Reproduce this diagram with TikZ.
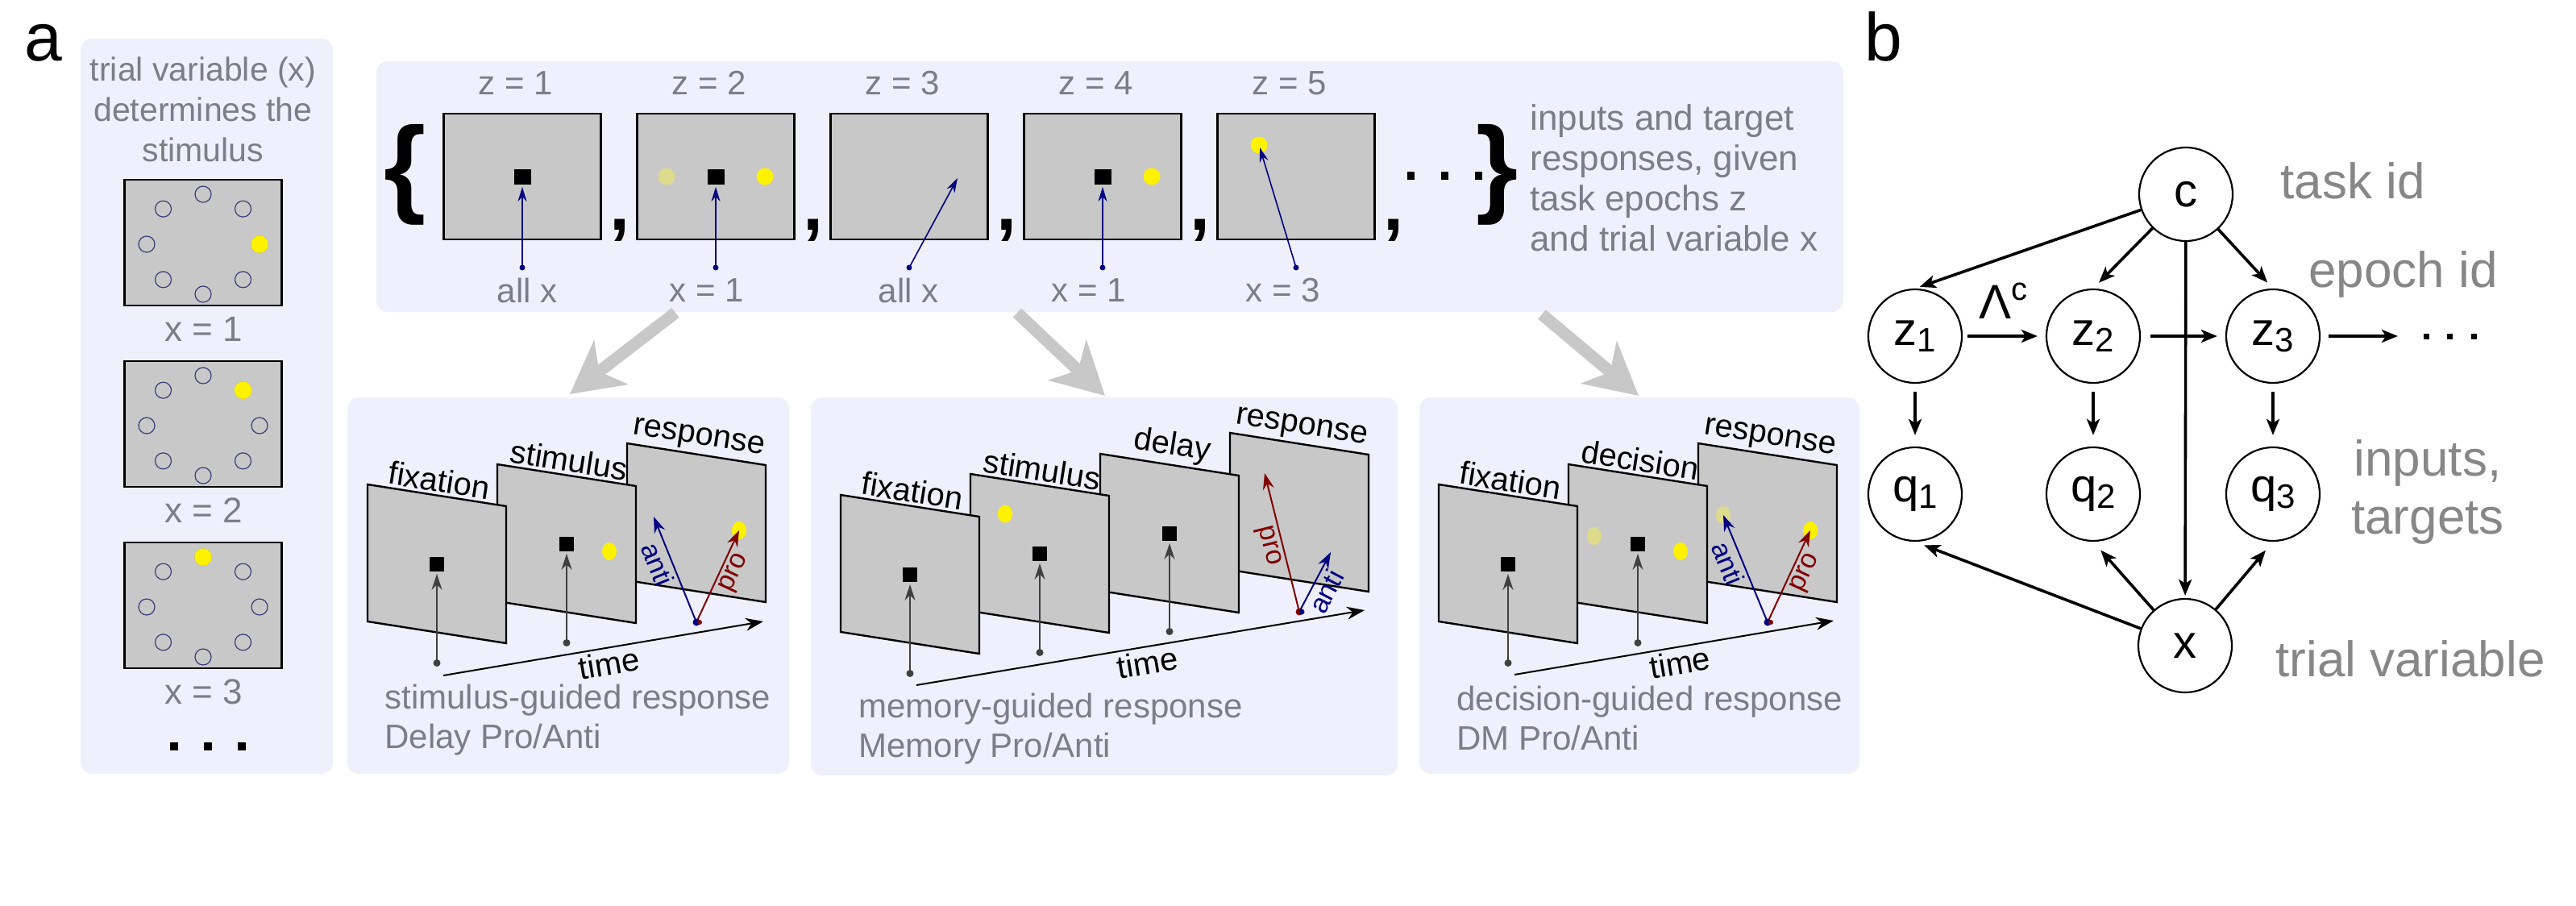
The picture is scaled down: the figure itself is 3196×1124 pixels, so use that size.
\documentclass[tikz,border=0pt]{standalone}
\usepackage{fontspec}
\setmainfont{Liberation Sans}
\usetikzlibrary{arrows.meta,calc}
\definecolor{panelbg}{RGB}{240,240,252}
\definecolor{screengray}{RGB}{200,200,200}
\definecolor{textgray}{RGB}{125,125,135}
\definecolor{labgray}{RGB}{135,135,135}
\definecolor{dotyellow}{RGB}{255,242,0}
\definecolor{fadeyellow}{RGB}{222,219,140}
\definecolor{antiblue}{RGB}{0,0,128}
\definecolor{prored}{RGB}{128,0,0}
\definecolor{ringblue}{RGB}{60,60,120}
\definecolor{arrowgray}{RGB}{200,200,200}
\definecolor{fixgray}{RGB}{64,64,64}

\newcommand{\lowsub}[1]{\raisebox{-4pt}{\fontsize{21}{21}\selectfont #1}}
\newcommand{\trialscreen}[4]{%
	\draw[screen] (#2,#3) -- ++(172,27) -- ++(0,170) -- ++(-172,-27) -- cycle;
	\coordinate (#1) at (#2+86,#3+98.5);
	\node[epochlabel] (#1lab) at (#2+86,#3+13.5) {#4};
}

\tikzset{
	panel/.style={fill=panelbg, rounded corners=7pt},
	stimbox/.style={fill=screengray, draw=black, line width=1.3pt},
	screen/.style={fill=screengray, draw=black, line width=1.2pt},
	graytext/.style={text=textgray, font=\fontsize{21}{25}\selectfont},
	epochlabel/.style={font=\fontsize{20}{20}\selectfont, anchor=south, rotate=-8.9, inner sep=2pt},
	bigsq/.style={fill=black, minimum width=10.5pt, minimum height=9.5pt, inner sep=0pt},
	fixsq/.style={fill=black, minimum size=9pt, inner sep=0pt},
	inputarrow/.style={draw=antiblue, line width=0.8pt, -{Stealth[length=9pt,width=5.5pt]}},
	fixarrow/.style={draw=fixgray, line width=1.1pt, -{Stealth[length=10pt,width=6.5pt]}, shorten >=1.5pt},
	proarrow/.style={draw=prored, line width=1pt, -{Stealth[length=10pt,width=7pt]}},
	antiarrow/.style={draw=antiblue, line width=1pt, -{Stealth[length=10pt,width=7pt]}},
	timearrow/.style={draw=black, line width=1pt, -{Stealth[length=11pt,width=8pt]}},
	bigarrow/.style={draw=arrowgray, line width=7.5pt, -{Stealth[length=32pt,width=34pt,inset=9pt]}},
	rlabel/.style={font=\fontsize{17}{17}\selectfont, sloped, below, pos=0.6, inner sep=2pt},
	timelabel/.style={font=\fontsize{20}{20}\selectfont, sloped, below, pos=0.51, inner sep=2pt},
	caption/.style={graytext, anchor=west, align=left, inner sep=0pt, font=\fontsize{21}{24.5}\selectfont},
	bnode/.style={circle, draw, line width=1.1pt, minimum size=58pt, inner sep=0pt, font=\fontsize{29}{29}\selectfont},
	barrow/.style={line width=1.8pt, -{Stealth[length=10pt,width=8pt,inset=2.5pt]}, shorten >=5pt},
	blabel/.style={text=labgray, font=\fontsize{31}{36}\selectfont, inner sep=0pt},
	paneltag/.style={font=\fontsize{42}{42}\selectfont, anchor=base west, inner sep=0pt},
}

\begin{document}
\begin{tikzpicture}[x=0.5pt,y=-0.5pt]
	\useasboundingbox (0,0) rectangle (3196,1124);
	\node[paneltag] (taga) at (30,75) {a};
	\node[paneltag] (tagb) at (2313,75) {b};

	\fill[panel] (100,48) rectangle (413,960);
	\node[graytext, font=\fontsize{20.5}{25}\selectfont, align=center] (title) at (252,136) {trial variable (x)\\determines the\\stimulus};
	\foreach \j/\ang in {1/0,2/45,3/90}{
		\pgfmathsetmacro{\cy}{301+225*(\j-1)}
		\draw[stimbox] (154.5,\cy-78) rectangle (349.5,\cy+78);
		\foreach \k in {0,45,...,315}
			\draw[ringblue, line width=0.6pt] ({252+70*cos(\k)},{\cy+2-62*sin(\k)}) circle (10);
		\fill[dotyellow] ({252+70*cos(\ang)},{\cy+2-62*sin(\ang)}) circle (10.8);
		\node[graytext, font=\fontsize{22}{22}\selectfont] (xlab\j) at (253,\cy+107) {x = \j};
	}
	\foreach \x in {216,258,300} \fill (\x-5,921) rectangle (\x+5,931);

	\fill[panel] (467,76) rectangle (2287,387);
	\node[font=\bfseries\fontsize{67}{67}\selectfont, inner sep=0pt] (lbrace) at (503,217) {\{};
	\foreach \i in {1,...,5}{
		\pgfmathsetmacro{\cx}{408+240*\i}
		\draw[stimbox] (\cx-97.5,141) rectangle (\cx+97.5,297);
		\coordinate (box\i) at (\cx,219);
		\coordinate (src\i) at (\cx,332);
		\node[graytext] (zlab\i) at (\cx-8,103) {z = \i};
		\node[font=\bfseries\fontsize{45}{45}\selectfont, anchor=base, inner sep=0pt] (comma\i) at (\cx+121,285) {,};
	}
	\node[bigsq] (sq1) at (box1) {};
	\node[bigsq] (sq2) at (box2) {};
	\node[bigsq] (sq4) at (box4) {};
	\fill[fadeyellow] ($(box2)+(-61,0)$) circle (10.5);
	\fill[dotyellow] ($(box2)+(61,0)$) circle (10.5);
	\fill[dotyellow] ($(box4)+(61,0)$) circle (10.5);
	\fill[dotyellow] ($(box5)+(-46,-39)$) circle (10.5);
	\coordinate (tgt3) at ($(box3)+(60,2)$);
	\coordinate (tgt5) at ($(box5)+(-45,-36)$);
	\draw[inputarrow, shorten >=1.5pt] (src1) -- (sq1);
	\draw[inputarrow, shorten >=1.5pt] (src2) -- (sq2);
	\draw[inputarrow] (src3) -- (tgt3);
	\draw[inputarrow, shorten >=1.5pt] (src4) -- (sq4);
	\draw[inputarrow] (src5) -- (tgt5);
	\foreach \i in {1,...,5} \fill[antiblue] (src\i) circle (3.5);
	\foreach \i/\xx/\txt in {1/654/all x,2/877/x = 1,3/1127/all x,4/1351/x = 1,5/1592/x = 3}
		\node[graytext] (xv\i) at (\xx,360) {\txt};
	\foreach \x in {1750,1792,1834} \fill (\x-4.5,213) rectangle (\x+4.5,223);
	\node[font=\bfseries\fontsize{67}{67}\selectfont, inner sep=0pt] (rbrace) at (1858,217) {\}};
	\node[graytext, font=\fontsize{22}{25}\selectfont, anchor=west, align=left, inner sep=0pt] (tasktext) at (1898,221) {inputs and target\\responses, given\\task epochs z\\and trial variable x};

	\fill[panel] (431,493) rectangle (979,960);
	\fill[panel] (1006,493) rectangle (1734,962);
	\fill[panel] (1761,493) rectangle (2307,960);
	\coordinate (g1a) at (838,388); \coordinate (g1b) at (707,489);
	\coordinate (g2a) at (1262,388); \coordinate (g2b) at (1371,491);
	\coordinate (g3a) at (1913,390); \coordinate (g3b) at (2033,491);
	\draw[bigarrow] (g1a) -- (g1b);
	\draw[bigarrow] (g2a) -- (g2b);
	\draw[bigarrow] (g3a) -- (g3b);

	\trialscreen{p1r}{778}{550}{response}
	\trialscreen{p1s}{617}{576}{stimulus}
	\trialscreen{p1f}{456}{601}{fixation}
	\node[fixsq] (p1fsq) at (p1f) {};
	\node[fixsq] (p1ssq) at (p1s) {};
	\fill[dotyellow] ($(p1s)+(53,9.5)$) ellipse [x radius=9, y radius=11];
	\coordinate (p1pro) at ($(p1r)+(53,9.5)$);
	\coordinate (p1anti) at ($(p1r)+(-53,-7.5)$);
	\fill[dotyellow] (p1pro) ellipse [x radius=9, y radius=11];
	\coordinate (p1fd) at ($(p1f)+(0,123)$);
	\coordinate (p1sd) at ($(p1s)+(0,123)$);
	\coordinate (p1piv) at ($(p1r)+(0,123.5)$);
	\draw[fixarrow] (p1fd) -- (p1fsq);
	\draw[fixarrow] (p1sd) -- (p1ssq);
	\fill[fixgray] (p1fd) circle (4.5);
	\fill[fixgray] (p1sd) circle (4.5);
	\draw[antiarrow] (p1piv) -- node[rlabel, text=antiblue] {anti} (p1anti);
	\draw[proarrow] (p1piv) -- node[rlabel, text=prored] {pro} (p1pro);
	\fill[antiblue] (p1piv) circle (4.5);
	\fill[prored] ($(p1piv)+(4,0)$) circle (3);
	\coordinate (p1t0) at (550,838); \coordinate (p1t1) at (947,771);
	\draw[timearrow] (p1t0) -- node[timelabel] {time} (p1t1);
	\node[caption] (p1cap) at (477,893) {stimulus-guided response\\Delay Pro/Anti};

	\trialscreen{p2r}{1526}{537}{response}
	\trialscreen{p2d}{1365}{563}{delay}
	\trialscreen{p2s}{1204}{588}{stimulus}
	\trialscreen{p2f}{1043}{614}{fixation}
	\node[fixsq] (p2fsq) at (p2f) {};
	\node[fixsq] (p2ssq) at (p2s) {};
	\node[fixsq] (p2dsq) at (p2d) {};
	\fill[dotyellow] ($(p2s)+(-43,-49)$) ellipse [x radius=9, y radius=11];
	\coordinate (p2pro) at ($(p2r)+(-43,-48.5)$);
	\coordinate (p2anti) at ($(p2r)+(39,49.5)$);
	\coordinate (p2fd) at ($(p2f)+(0,123)$);
	\coordinate (p2sd) at ($(p2s)+(0,123)$);
	\coordinate (p2dd) at ($(p2d)+(0,122)$);
	\coordinate (p2piv) at ($(p2r)+(0,123.5)$);
	\draw[fixarrow] (p2fd) -- (p2fsq);
	\draw[fixarrow] (p2sd) -- (p2ssq);
	\draw[fixarrow] (p2dd) -- (p2dsq);
	\fill[fixgray] (p2fd) circle (4.5);
	\fill[fixgray] (p2sd) circle (4.5);
	\fill[fixgray] (p2dd) circle (4.5);
	\draw[proarrow] (p2piv) -- node[rlabel, pos=0.5, text=prored] {pro} (p2pro);
	\draw[antiarrow] (p2piv) -- node[rlabel, pos=0.45, text=antiblue] {anti} (p2anti);
	\fill[prored] (p2piv) circle (4.5);
	\fill[antiblue] ($(p2piv)+(3,0)$) circle (3.5);
	\coordinate (p2t0) at (1137,850); \coordinate (p2t1) at (1693,757);
	\draw[timearrow] (p2t0) -- node[timelabel] {time} (p2t1);
	\node[caption] (p2cap) at (1065,904) {memory-guided response\\Memory Pro/Anti};

	\trialscreen{p3r}{2107}{550}{response}
	\trialscreen{p3d}{1946}{576}{decision}
	\trialscreen{p3f}{1785}{601}{fixation}
	\node[fixsq] (p3fsq) at (p3f) {};
	\node[fixsq] (p3dsq) at (p3d) {};
	\fill[fadeyellow] ($(p3d)+(-54,-9.5)$) ellipse [x radius=9, y radius=11];
	\fill[dotyellow] ($(p3d)+(53,9.5)$) ellipse [x radius=9, y radius=11];
	\coordinate (p3pro) at ($(p3r)+(53,9.5)$);
	\coordinate (p3anti) at ($(p3r)+(-55,-9.5)$);
	\fill[fadeyellow] (p3anti) ellipse [x radius=9, y radius=11];
	\fill[dotyellow] (p3pro) ellipse [x radius=9, y radius=11];
	\coordinate (p3fd) at ($(p3f)+(0,123)$);
	\coordinate (p3dd) at ($(p3d)+(0,123)$);
	\coordinate (p3piv) at ($(p3r)+(0,123.5)$);
	\draw[fixarrow] (p3fd) -- (p3fsq);
	\draw[fixarrow] (p3dd) -- (p3dsq);
	\fill[fixgray] (p3fd) circle (4.5);
	\fill[fixgray] (p3dd) circle (4.5);
	\draw[antiarrow] (p3piv) -- node[rlabel, text=antiblue] {anti} (p3anti);
	\draw[proarrow] (p3piv) -- node[rlabel, text=prored] {pro} (p3pro);
	\fill[antiblue] (p3piv) circle (4.5);
	\fill[prored] ($(p3piv)+(4,0)$) circle (3);
	\coordinate (p3t0) at (1879,837); \coordinate (p3t1) at (2275,770);
	\draw[timearrow] (p3t0) -- node[timelabel] {time} (p3t1);
	\node[caption] (p3cap) at (1807,891) {decision-guided response\\DM Pro/Anti};

	\node[bnode] (c) at (2712,241) {c};
	\node[bnode] (z1) at (2376,417) {z\lowsub{1}};
	\node[bnode] (z2) at (2597,417) {z\lowsub{2}};
	\node[bnode] (z3) at (2820,417) {z\lowsub{3}};
	\node[bnode] (q1) at (2376,613) {q\lowsub{1}};
	\node[bnode] (q2) at (2597,613) {q\lowsub{2}};
	\node[bnode] (q3) at (2820,613) {q\lowsub{3}};
	\node[bnode] (x) at (2711,801) {x};
	\coordinate (zmore) at (2975,417);
	\draw[barrow, shorten >=3pt] (c) -- (z1.north);
	\draw[barrow] (c) -- (z2.north);
	\draw[barrow] (c) -- (z3.north);
	\draw[barrow, shorten >=1.5pt] (c) -- (x);
	\draw[barrow, shorten <=3pt] (z1) -- (z2);
	\draw[barrow, shorten <=6pt] (z2) -- (z3);
	\draw[barrow, shorten <=5pt, shorten >=0pt] (z3) -- (zmore);
	\foreach \k in {1,2,3} \draw[barrow, shorten <=5pt, shorten >=7pt] (z\k) -- (q\k);
	\draw[barrow, shorten >=6pt] (x) -- (q1.south);
	\draw[barrow, shorten >=7pt] (x) -- (q2.south);
	\draw[barrow, shorten >=7pt] (x) -- (q3.south);
	\foreach \x in {3010,3039,3069} \fill (\x-3.5,413.5) rectangle (\x+3.5,420.5);
	\node[anchor=base west, inner sep=0pt, font=\fontsize{30}{30}\selectfont] (lam) at (2455,395) {Λ\raisebox{11.5pt}{\fontsize{20}{20}\selectfont c}};
	\node[blabel, anchor=west] (taskid) at (2829,224) {task id};
	\node[blabel, anchor=west] (epochid) at (2864,340) {epoch id};
	\node[blabel, align=center] (inputs) at (3012,610) {inputs,\\targets};
	\node[blabel, anchor=west] (trialvar) at (2823,817) {trial variable};
\end{tikzpicture}
\end{document}
